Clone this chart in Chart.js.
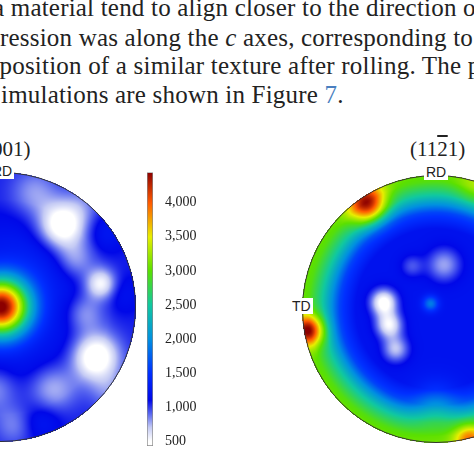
<!DOCTYPE html>
<html><head><meta charset="utf-8">
<script src="https://cdn.jsdelivr.net/npm/chart.js@4"></script>
<style>
html,body{margin:0;padding:0;width:474px;height:474px;overflow:hidden;background:#fff;position:relative}
.t{position:absolute;left:0;font-family:"Liberation Serif",serif;font-size:25px;letter-spacing:0.2px;color:#222;white-space:nowrap;line-height:1}
.lab{position:absolute;font-family:"Liberation Serif",serif;font-size:21px;color:#222;white-space:nowrap}
.box{position:absolute;background:#fff;font-family:"Liberation Sans",Arial,sans-serif;font-size:14px;color:#222;padding:0 2px;line-height:16px}
canvas{position:absolute}
</style></head><body>
<div class="t" style="top:-5px;left:-7px">a material tend to align closer to the direction of</div>
<div class="t" style="top:25px;left:0px">ression was along the <i>c</i> axes, corresponding to the</div>
<div class="t" style="top:53px;left:-9px">rposition of a similar texture after rolling. The pole</div>
<div class="t" style="top:82px;left:1px">imulations are shown in Figure <span style="color:#4a7fc0">7</span>.</div>
<div class="lab" style="left:-15px;top:137px">(001)</div>
<div class="lab" style="left:410px;top:137px">(11<span style="text-decoration:overline">2</span>1)</div>
<canvas id="c1" style="left:-134px;top:172px"></canvas>
<canvas id="c2" style="left:302px;top:175px"></canvas>
<canvas id="cb" style="left:147px;top:160px"></canvas>
<div class="box" style="left:-10px;top:163px">RD</div>
<div class="box" style="left:424px;top:164px">RD</div>
<div class="box" style="left:290px;top:298px">TD</div>
<script>
// colour scale
const colorStops = [500,700,900,1100,1500,2000,2500,3000,3500,4000,4446];
const colorHex = ['#ffffff','#c4caf4','#5a68f0','#0008e8','#0030ff','#0090e0','#10c8a0','#5ae000','#e8ee00','#ff5a00','#8c0000'];
const colorTicks = [500,1000,1500,2000,2500,3000,3500,4000];

// left pole figure (001): radial profile and blobs [x, y, amplitude, sigma]
const leftProfileR = [0, 0.5, 0.8, 1.0];
const leftProfileV = [1200, 1200, 1050, 1050];
const leftBlobs = [
 [0,0,3300,0.15],[0.45,0.6,-720,0.12],[0.74,0.17,-560,0.08],[0.7,-0.37,-720,0.12],
 [0.25,0.85,-250,0.12],[0.55,0.35,-300,0.1],[0.62,-0.05,-300,0.1],[0.38,-0.6,-330,0.12],
 [-0.05,-0.6,-300,0.12],[0.1,-0.88,-200,0.1],[0.8,-0.62,-200,0.1],[0.6,0.75,-150,0.1],
 [0.9,0.1,150,0.1],[0.3,-0.85,200,0.1],[0.78,0.55,200,0.1],[0.25,0.3,100,0.2]
];
// right pole figure (11-21)
const rightProfileR = [0, 0.6, 0.72, 0.85, 0.95, 1.0];
const rightProfileV = [1200, 1200, 1600, 2500, 2950, 3050];
const rightBlobs = [
 [-0.51,0.78,1500,0.1],[-0.95,-0.16,1500,0.08],[0.25,-0.97,900,0.08],
 [-0.39,0.05,-760,0.07],[-0.35,-0.12,-650,0.07],[-0.3,-0.3,-480,0.07],[-0.18,0.32,-250,0.06],
 [0.06,0.33,-420,0.09],[-0.04,0.04,700,0.04],[0,-0.72,450,0.12],[0.3,0.9,300,0.1]
];

function hex(h){return [parseInt(h.slice(1,3),16),parseInt(h.slice(3,5),16),parseInt(h.slice(5,7),16)];}
const rgbStops = colorHex.map(hex);
function cmap(v){
  if(v<=colorStops[0]) return rgbStops[0];
  for(let i=1;i<colorStops.length;i++){
    if(v<=colorStops[i]){const t=(v-colorStops[i-1])/(colorStops[i]-colorStops[i-1]);
      const a=rgbStops[i-1],b=rgbStops[i];return [a[0]+(b[0]-a[0])*t,a[1]+(b[1]-a[1])*t,a[2]+(b[2]-a[2])*t];}
  }
  return rgbStops[rgbStops.length-1];
}
function interp(xs,ys,x){
  if(x<=xs[0])return ys[0];
  for(let i=1;i<xs.length;i++) if(x<=xs[i]) return ys[i-1]+(ys[i]-ys[i-1])*(x-xs[i-1])/(xs[i]-xs[i-1]);
  return ys[ys.length-1];
}
const fieldPlugin = {
  id:'field',
  beforeDatasetsDraw(chart){
    const {ctx,chartArea:a,scales:{x,y}} = chart;
    const prof = chart.options.plugins.field;
    const blobs = chart.data.datasets[0].data;
    const w=Math.round(a.right-a.left), h=Math.round(a.bottom-a.top);
    const img = ctx.createImageData(w,h);
    for(let j=0;j<h;j++){
      const v = y.getValueForPixel(a.top+j+0.5);
      for(let i=0;i<w;i++){
        const u = x.getValueForPixel(a.left+i+0.5);
        const r = Math.hypot(u,v);
        if(r>1) continue;
        let val = interp(prof.r,prof.v,r);
        for(const b of blobs){const d2=(u-b.x)**2+(v-b.y)**2; val += b.a*Math.exp(-d2/(2*b.s*b.s));}
        const c = cmap(val), k=(j*w+i)*4;
        img.data[k]=c[0];img.data[k+1]=c[1];img.data[k+2]=c[2];img.data[k+3]=255;
      }
    }
    ctx.putImageData(img,a.left,a.top);
    const cx=x.getPixelForValue(0), cy=y.getPixelForValue(0), R=x.getPixelForValue(1)-cx;
    ctx.save();ctx.beginPath();ctx.arc(cx,cy,R-0.5,0,Math.PI*2);ctx.strokeStyle='#333';ctx.lineWidth=1;ctx.stroke();ctx.restore();
  }
};
function pole(id,size,blobs,pr,pv){
  const c=document.getElementById(id); c.width=size;c.height=size;
  new Chart(c,{type:'scatter',
    data:{datasets:[{data:blobs.map(b=>({x:b[0],y:b[1],a:b[2],s:b[3]})),pointRadius:0}]},
    options:{responsive:false,animation:false,devicePixelRatio:1,layout:{padding:0},
      plugins:{legend:{display:false},tooltip:{enabled:false},field:{r:pr,v:pv}},
      scales:{x:{type:'linear',min:-1,max:1,display:false},y:{type:'linear',min:-1,max:1,display:false}}},
    plugins:[fieldPlugin]});
}
pole('c1',270,leftBlobs,leftProfileR,leftProfileV);
pole('c2',268,rightBlobs,rightProfileR,rightProfileV);

// colour bar
const cb=document.getElementById('cb'); cb.width=60; cb.height=300;
new Chart(cb,{type:'bar',
  data:{labels:[''],datasets:[{data:[[colorStops[0]-72,colorStops[colorStops.length-1]]],
    borderColor:'#888',borderWidth:1,borderSkipped:false,barPercentage:1,categoryPercentage:1,
    backgroundColor(ctx){const a=ctx.chart.chartArea; if(!a) return '#fff';
      const ys=ctx.chart.scales.y; const g=ctx.chart.ctx.createLinearGradient(0,ys.getPixelForValue(ys.min),0,ys.getPixelForValue(ys.max));
      const lo=ys.min,hi=ys.max;
      g.addColorStop(0,colorHex[0]);
      colorStops.forEach((s,i)=>g.addColorStop(Math.max(0,Math.min(1,(s-lo)/(hi-lo))),colorHex[i]));
      return g;}}]},
  options:{responsive:false,animation:false,devicePixelRatio:1,
    layout:{padding:{top:7,bottom:14,left:0,right:0}},
    plugins:{legend:{display:false},tooltip:{enabled:false}},
    scales:{x:{display:false},
      y:{position:'right',min:428,max:4446,grid:{display:false,drawTicks:true},border:{display:false},
        afterBuildTicks(s){s.ticks=colorTicks.map(v=>({value:v}));},
        afterFit(s){s.width=54;},
        ticks:{padding:4,color:'#222',font:{family:'Liberation Serif',size:14},callback:v=>v.toLocaleString('en-US')}}}}});
</script>
</body></html>
